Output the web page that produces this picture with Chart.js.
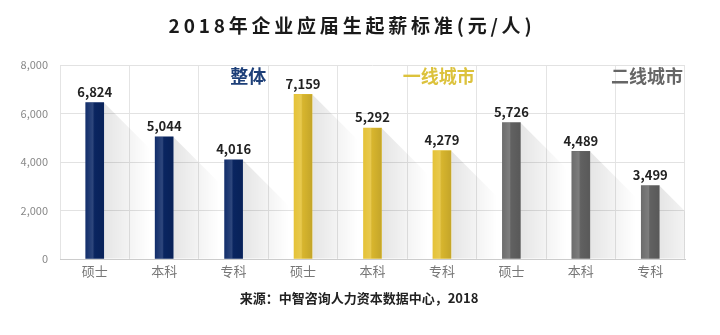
<!DOCTYPE html>
<html>
<head>
<meta charset="utf-8">
<script src="https://cdn.jsdelivr.net/npm/chart.js@4"></script>
<style>
html,body{margin:0;padding:0;background:#fff;}
canvas{display:block;}
</style>
</head>
<body>
<canvas id="c" width="720" height="335"></canvas>
<script>
// ---- data ----
const categories = ['硕士','本科','专科','硕士','本科','专科','硕士','本科','专科'];
const groupNames = ['整体','一线城市','二线城市'];
const barHeights = [6450, 5040, 4090, 6790, 5400, 4470, 5630, 4440, 3030];
const valueLabels = ['6,824','5,044','4,016','7,159','5,292','4,279','5,726','4,489','3,499'];
const yTicks = [0, 2000, 4000, 6000, 8000];
const titleText = '2018年企业应届生起薪标准(元/人)';
const sourceText = '来源：中智咨询人力资本数据中心，2018';

// ---- styles ----
const FONT = '"Noto Sans CJK SC", "Noto Sans", sans-serif';
const groupColors = ['#0a2766', '#e4c030', '#676767'];
const groupTextColors = ['#1d3f78', '#dcc23c', '#666666'];
const barColors = categories.map((c, i) => groupColors[Math.floor(i / 3)]);

const decorPlugin = {
  id: 'decor',
  beforeDatasetsDraw(chart) {
    const ctx = chart.ctx;
    const area = chart.chartArea;
    const meta = chart.getDatasetMeta(0);
    ctx.save();
    ctx.beginPath();
    ctx.rect(area.left, area.top, area.right - area.left, area.bottom - area.top);
    ctx.clip();
    meta.data.forEach((bar) => {
      const w = bar.width;
      const right = bar.x + w / 2;
      const top = bar.y;
      const base = bar.base;
      const D = 46;
      const g = ctx.createLinearGradient(right, 0, right + D, 0);
      g.addColorStop(0, 'rgba(0,0,0,0.10)');
      g.addColorStop(1, 'rgba(0,0,0,0)');
      ctx.fillStyle = g;
      ctx.beginPath();
      ctx.moveTo(right, top);
      ctx.lineTo(right + D, top + D);
      ctx.lineTo(right + D, base);
      ctx.lineTo(right, base);
      ctx.closePath();
      ctx.fill();
    });
    ctx.restore();
  },
  afterDatasetsDraw(chart) {
    const ctx = chart.ctx;
    const meta = chart.getDatasetMeta(0);
    ctx.save();
    meta.data.forEach((bar, i) => {
      const left = bar.x - bar.width / 2;
      const right = bar.x + bar.width / 2;
      const g = ctx.createLinearGradient(left, 0, right, 0);
      g.addColorStop(0, 'rgba(255,255,255,0.04)');
      g.addColorStop(0.4, 'rgba(255,255,255,0.15)');
      g.addColorStop(0.5, 'rgba(0,0,0,0.06)');
      g.addColorStop(1, 'rgba(0,0,0,0.14)');
      ctx.fillStyle = g;
      ctx.fillRect(left, bar.y, bar.width, bar.base - bar.y);
      // value label
      ctx.fillStyle = '#222';
      ctx.font = 'bold 13px ' + FONT;
      ctx.textAlign = 'center';
      ctx.textBaseline = 'bottom';
      ctx.fillText(valueLabels[i], bar.x, bar.y - 4);
    });
    // group names, right aligned at group's right edge
    const xs = chart.scales.x;
    const step = (xs.right - xs.left) / categories.length;
    groupNames.forEach((name, gi) => {
      const rightEdge = xs.left + step * (gi * 3 + 3) - 2;
      ctx.fillStyle = groupTextColors[gi];
      ctx.font = 'bold 18px ' + FONT;
      ctx.textAlign = 'right';
      ctx.textBaseline = 'middle';
      ctx.fillText(name, rightEdge, 76);
    });
    ctx.restore();
  },
  afterDraw(chart) {
    const ctx = chart.ctx;
    ctx.save();
    ctx.fillStyle = '#1a1a1a';
    ctx.font = 'bold 19px ' + FONT;
    ctx.textAlign = 'center';
    ctx.textBaseline = 'middle';
    ctx.letterSpacing = '3.8px';
    ctx.fillText(titleText, 352, 26);
    ctx.letterSpacing = '0px';
    ctx.font = 'bold 13px ' + FONT;
    ctx.fillStyle = '#222';
    ctx.fillText(sourceText, 359, 298);
    ctx.restore();
  }
};

new Chart(document.getElementById('c'), {
  type: 'bar',
  data: {
    labels: categories,
    datasets: [{
      data: barHeights,
      backgroundColor: barColors,
      borderWidth: 0,
      barThickness: 18
    }]
  },
  options: {
    responsive: false,
    animation: false,
    devicePixelRatio: 1,
    layout: { padding: { top: 65, right: 35, left: 0, bottom: 0 } },
    plugins: { legend: { display: false }, tooltip: { enabled: false }, title: { display: false } },
    scales: {
      x: {
        grid: { color: '#e4e4e4', drawTicks: false, offset: true },
        border: { color: '#cccccc' },
        ticks: { color: '#777', font: { size: 13, family: FONT }, padding: 4 },
        afterFit(s) { s.height = 76; }
      },
      y: {
        min: 0,
        max: 8000,
        afterBuildTicks(s) { s.ticks = yTicks.map(v => ({ value: v })); },
        ticks: { color: '#888', font: { size: 11, family: FONT }, padding: 12 },
        grid: { color: '#e2e2e2', drawTicks: false },
        border: { display: false },
        afterFit(s) { s.width = 60; }
      }
    }
  },
  plugins: [decorPlugin]
});
</script>
</body>
</html>
